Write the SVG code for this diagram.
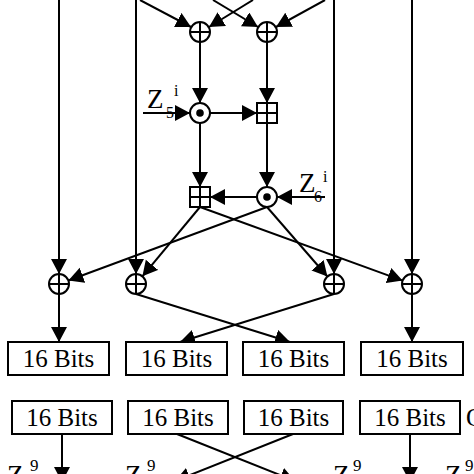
<svg xmlns="http://www.w3.org/2000/svg" width="474" height="474" viewBox="0 0 474 474">
<defs>
<marker id="ah" markerUnits="userSpaceOnUse" markerWidth="17" markerHeight="17" refX="15" refY="8" orient="auto">
<path d="M0,0 L15,8 L0,16 z" fill="#000"/>
</marker>
<style>
.w{stroke:#000;stroke-width:2;fill:none}
.a{stroke:#000;stroke-width:2;fill:none;marker-end:url(#ah)}
.n{stroke:#000;stroke-width:2;fill:#fff}
.t{font-family:"Liberation Serif","Times New Roman",serif;font-size:25px;fill:#000}
.z{font-family:"Liberation Serif","Times New Roman",serif;font-size:27px;fill:#000}
.s{font-family:"Liberation Serif","Times New Roman",serif;font-size:16px;fill:#000}
.g{font-family:"Liberation Serif","Times New Roman",serif;font-size:17px;fill:#000}
</style>
</defs>
<rect width="474" height="474" fill="#fff"/>
<g id="connectors">
<line class="a" x1="140" y1="0" x2="191" y2="27"/>
<line class="a" x1="253" y1="0" x2="209" y2="27"/>
<line class="a" x1="213" y1="0" x2="258" y2="27"/>
<line class="a" x1="325" y1="0" x2="276" y2="27"/>
<line class="a" x1="59" y1="0" x2="59" y2="274"/>
<line class="a" x1="136" y1="0" x2="136" y2="274"/>
<line class="a" x1="334" y1="0" x2="334" y2="274"/>
<line class="a" x1="412" y1="0" x2="412" y2="274"/>
<line class="a" x1="200" y1="42" x2="200" y2="103"/>
<line class="a" x1="267" y1="42" x2="267" y2="103"/>
<line class="a" x1="143" y1="113" x2="190" y2="113"/>
<line class="a" x1="210" y1="113" x2="257" y2="113"/>
<line class="a" x1="200" y1="123" x2="200" y2="187"/>
<line class="a" x1="267" y1="123" x2="267" y2="187"/>
<line class="a" x1="325" y1="197" x2="277" y2="197"/>
<line class="a" x1="257" y1="197" x2="210" y2="197"/>
<line class="a" x1="200" y1="207" x2="142.4" y2="276.3"/>
<line class="a" x1="200" y1="207" x2="402.6" y2="280.6"/>
<line class="a" x1="267" y1="207" x2="68.4" y2="280.5"/>
<line class="a" x1="267" y1="207" x2="327.4" y2="276.5"/>
<line class="a" x1="59" y1="294" x2="59" y2="342"/>
<line class="a" x1="136" y1="294" x2="290" y2="342"/>
<line class="a" x1="334" y1="294" x2="180" y2="342"/>
<line class="a" x1="412" y1="294" x2="412" y2="342"/>
<line class="a" x1="62" y1="434" x2="62" y2="482"/>
<line class="a" x1="410" y1="434" x2="410" y2="482"/>
<line class="a" x1="177" y1="434" x2="295" y2="481"/>
<line class="a" x1="293" y1="434" x2="175" y2="481"/>
</g>
<g id="xor1"><circle class="n" cx="200" cy="32" r="10"/><path class="w" d="M190,32H210M200,22V42"/></g>
<g id="xor2"><circle class="n" cx="267" cy="32" r="10"/><path class="w" d="M257,32H277M267,22V42"/></g>
<g id="mul1"><circle class="n" cx="200" cy="113" r="10"/><circle cx="200" cy="113" r="3.8" fill="#000"/></g>
<g id="add1"><rect class="n" x="257" y="103" width="20" height="20"/><path class="w" d="M257,113H277M267,103V123"/></g>
<g id="add2"><rect class="n" x="190" y="187" width="20" height="20"/><path class="w" d="M190,197H210M200,187V207"/></g>
<g id="mul2"><circle class="n" cx="267" cy="197" r="10"/><circle cx="267" cy="197" r="3.8" fill="#000"/></g>
<g id="z5"><text class="z" x="147" y="108">Z</text><text class="s" x="166" y="118">5</text><text class="s" x="174" y="96">i</text></g>
<g id="z6"><text class="z" x="299" y="192">Z</text><text class="s" x="314" y="202">6</text><text class="s" x="323" y="182">i</text></g>
<g id="xor3"><circle class="n" cx="59" cy="284" r="10"/><path class="w" d="M49,284H69M59,274V294"/></g>
<g id="xor4"><circle class="n" cx="136" cy="284" r="10"/><path class="w" d="M126,284H146M136,274V294"/></g>
<g id="xor5"><circle class="n" cx="334" cy="284" r="10"/><path class="w" d="M324,284H344M334,274V294"/></g>
<g id="xor6"><circle class="n" cx="412" cy="284" r="10"/><path class="w" d="M402,284H422M412,274V294"/></g>
<g id="b1"><rect class="n" x="8" y="342" width="101" height="33"/><text class="t" x="58.5" y="367" text-anchor="middle">16 Bits</text></g>
<g id="b2"><rect class="n" x="126" y="342" width="101" height="33"/><text class="t" x="176.5" y="367" text-anchor="middle">16 Bits</text></g>
<g id="b3"><rect class="n" x="243" y="342" width="101" height="33"/><text class="t" x="293.5" y="367" text-anchor="middle">16 Bits</text></g>
<g id="b4"><rect class="n" x="361" y="342" width="102" height="33"/><text class="t" x="412" y="367" text-anchor="middle">16 Bits</text></g>
<g id="c1"><rect class="n" x="12" y="401" width="100" height="33"/><text class="t" x="62" y="426" text-anchor="middle">16 Bits</text></g>
<g id="c2"><rect class="n" x="128" y="401" width="100" height="33"/><text class="t" x="178" y="426" text-anchor="middle">16 Bits</text></g>
<g id="c3"><rect class="n" x="244" y="401" width="99" height="33"/><text class="t" x="293.5" y="426" text-anchor="middle">16 Bits</text></g>
<g id="c4"><rect class="n" x="360" y="401" width="100" height="33"/><text class="t" x="410" y="426" text-anchor="middle">16 Bits</text></g>
<text class="t" x="466" y="426">O</text>
<g id="z9a"><text class="z" x="7" y="484">Z</text><text class="g" x="30" y="471">9</text></g>
<g id="z9b"><text class="z" x="125" y="484">Z</text><text class="g" x="147" y="471">9</text></g>
<g id="z9c"><text class="z" x="333" y="484">Z</text><text class="g" x="353" y="471">9</text></g>
<g id="z9d"><text class="z" x="445" y="484">Z</text><text class="g" x="465" y="471">9</text></g>
</svg>
